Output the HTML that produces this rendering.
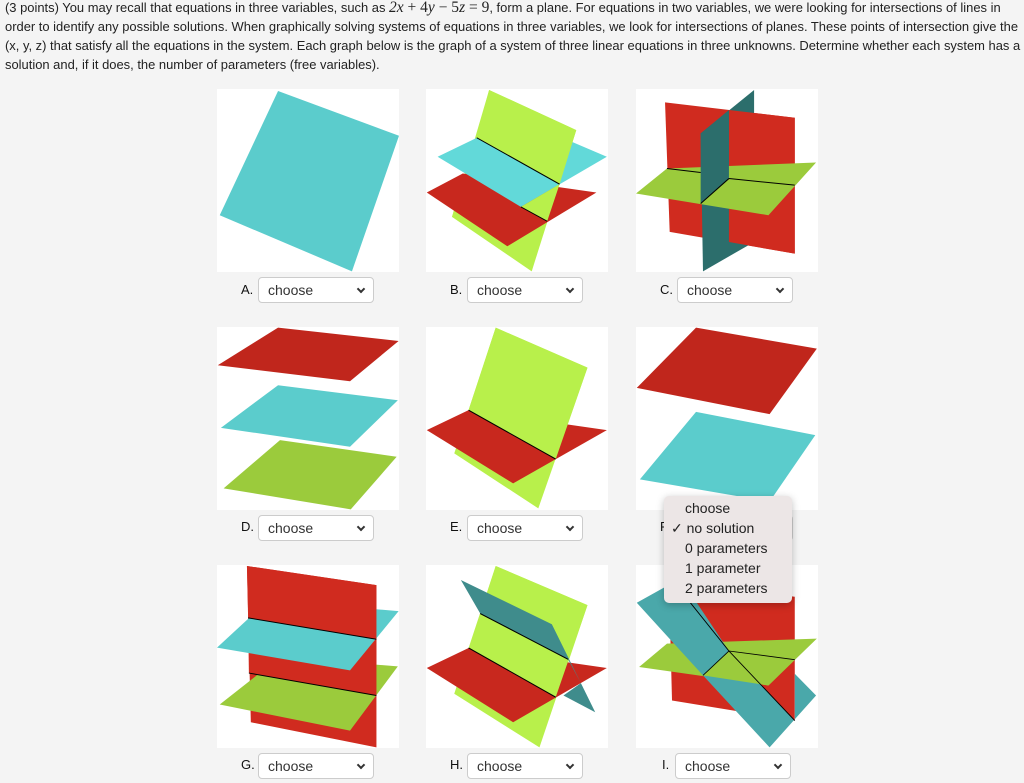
<!DOCTYPE html>
<html><head><meta charset="utf-8"><style>
body{margin:0;width:1024px;height:783px;background:#f4f4f4;position:relative;overflow:hidden;font-family:"Liberation Sans",Arial,sans-serif;}
.t{position:absolute;left:5px;top:-2px;font-size:12.95px;line-height:19px;color:#222;white-space:nowrap;}
.m{font-family:"Liberation Serif",serif;font-size:15.5px;}
svg.b{position:absolute;width:182px;height:183px;background:#fff;}
.sel{position:absolute;width:116px;height:26px;border:1px solid #ccc;border-radius:4px;background:#fff;font-size:14px;color:#333;box-sizing:border-box;padding:4px 0 0 9px;}
.sel:after{content:"";position:absolute;right:9px;top:8px;width:4px;height:4px;border-right:2px solid #333;border-bottom:2px solid #333;transform:rotate(45deg);}
.lb{position:absolute;font-size:13px;color:#111;}
.menu{position:absolute;left:664px;top:496px;width:128px;height:107px;background:#ece6e6;border-radius:5px;box-shadow:0 2px 8px rgba(0,0,0,.25);font-size:14px;color:#222;}
.menu div{position:absolute;left:21px;}
</style></head><body>
<div class="t">(3 points) You may recall that equations in three variables, such as <span class="m"><i>2x</i> + 4<i>y</i> − 5<i>z</i> = 9</span>, form a plane. For equations in two variables, we were looking for intersections of lines in<br>order to identify any possible solutions. When graphically solving systems of equations in three variables, we look for intersections of planes. These points of intersection give the<br>(x, y, z) that satisfy all the equations in the system. Each graph below is the graph of a system of three linear equations in three unknowns. Determine whether each system has a<br>solution and, if it does, the number of parameters (free variables).</div>

<svg class="b" style="left:217px;top:89px" viewBox="18 12 468 548" preserveAspectRatio="none">
<polygon points="175,18 486,152 365,558 25,390" fill="#5bcccc"/></svg>
<svg class="b" style="left:426px;top:89px" viewBox="555 12 470 548" preserveAspectRatio="none">
<polygon points="718,15 943,135 828,558 622,395" fill="#b8f04b"/>
<polygon points="557,322 650,265 995,322 765,483" fill="#c8281e"/>
<polygon points="585,215 790,100 1022,215 800,365" fill="#62d9d9"/>
<polygon points="686,158 718,15 943,135 900,297" fill="#b8f04b"/>
<polygon points="800,365 900,297 868,408" fill="#b8f04b"/>
<polyline points="686,158 900,297" stroke="#000" stroke-width="3" fill="none"/>
<polyline points="800,365 868,408" stroke="#000" stroke-width="3" fill="none"/></svg>
<svg class="b" style="left:636px;top:89px" viewBox="1095 12 470 548" preserveAspectRatio="none">
<polygon points="1170,52 1505,98 1505,505 1182,440" fill="#d02b1f"/>
<polygon points="1262,145 1400,15 1400,470 1268,558" fill="#2c6e6c"/>
<polygon points="1335,75 1505,98 1505,505 1335,470" fill="#d02b1f"/>
<polygon points="1095,325 1175,250 1560,232 1437,390" fill="#9bcb3c"/>
<polygon points="1262,145 1335,75 1335,280 1262,355" fill="#2c6e6c"/>
<polyline points="1175,250 1262,262" stroke="#000" stroke-width="3" fill="none"/>
<polyline points="1335,280 1505,300" stroke="#000" stroke-width="3" fill="none"/>
<polyline points="1335,280 1262,355" stroke="#000" stroke-width="3" fill="none"/></svg>
<svg class="b" style="left:217px;top:327px" viewBox="18 20 468 550" preserveAspectRatio="none">
<polygon points="20,135 175,22 485,62 360,183" fill="#c0261c"/>
<polygon points="28,323 175,195 483,240 360,380" fill="#5bcccc"/>
<polygon points="35,505 180,360 480,410 362,568" fill="#9bcb3c"/></svg>
<svg class="b" style="left:426px;top:327px" viewBox="555 20 470 550" preserveAspectRatio="none">
<polygon points="735,22 972,142 845,565 628,400" fill="#b8f04b"/>
<polygon points="557,330 665,270 1022,330 780,490" fill="#c8281e"/>
<polygon points="665,270 735,22 972,142 890,417" fill="#b8f04b"/>
<polyline points="665,270 890,417" stroke="#000" stroke-width="3" fill="none"/></svg>
<svg class="b" style="left:636px;top:327px" viewBox="1095 20 470 550" preserveAspectRatio="none">
<polygon points="1097,203 1250,22 1562,85 1440,282" fill="#c0261c"/>
<polygon points="1105,478 1250,275 1558,345 1440,545" fill="#5bcccc"/></svg>
<svg class="b" style="left:217px;top:565px" viewBox="18 15 468 547" preserveAspectRatio="none">
<polygon points="95,18 428,75 428,560 105,485" fill="#d02b1f"/>
<polygon points="25,432 180,290 483,318 360,510" fill="#9bcb3c"/>
<polygon points="100,338 428,405 428,237 98,173" fill="#d02b1f"/>
<polygon points="18,262 150,120 485,153 360,330" fill="#5bcccc"/>
<polygon points="95,18 428,75 428,237 98,173" fill="#d02b1f"/>
<polyline points="98,173 428,237" stroke="#000" stroke-width="3" fill="none"/>
<polyline points="100,338 428,405" stroke="#000" stroke-width="3" fill="none"/></svg>
<svg class="b" style="left:426px;top:565px" viewBox="555 15 470 547" preserveAspectRatio="none">
<polygon points="735,18 972,135 848,560 628,400" fill="#b8f04b"/>
<polygon points="557,323 665,263 1022,323 780,485" fill="#c8281e"/>
<polygon points="665,263 735,18 972,135 890,410" fill="#b8f04b"/>
<polygon points="645,60 880,192 955,368 922,297 695,160" fill="#3f8c8c"/>
<polygon points="910,405 955,368 992,455" fill="#3f8c8c"/>
<polyline points="665,263 890,410" stroke="#000" stroke-width="3" fill="none"/>
<polyline points="695,160 922,297" stroke="#000" stroke-width="3" fill="none"/></svg>
<svg class="b" style="left:636px;top:565px" viewBox="1095 15 470 547" preserveAspectRatio="none">
<polygon points="1180,60 1505,110 1505,480 1188,420" fill="#d02b1f"/>
<polygon points="1103,320 1175,250 1562,235 1437,375" fill="#9bcb3c"/>
<polygon points="1097,128 1210,55 1335,272 1505,480 1505,340 1560,405 1440,560 1268,345" fill="#4aa8aa"/>
<polygon points="1268,345 1335,272 1505,298 1437,375" fill="#9bcb3c"/>
<polyline points="1230,120 1335,272 1505,480" stroke="#000" stroke-width="2.5" fill="none"/>
<polyline points="1335,272 1505,298" stroke="#000" stroke-width="2.5" fill="none"/>
<polyline points="1335,272 1268,345" stroke="#000" stroke-width="2.5" fill="none"/></svg>

<div class="lb" style="left:241px;top:282px">A.</div><div class="sel" style="left:258px;top:277px">choose</div>
<div class="lb" style="left:450px;top:282px">B.</div><div class="sel" style="left:467px;top:277px">choose</div>
<div class="lb" style="left:660px;top:282px">C.</div><div class="sel" style="left:677px;top:277px">choose</div>
<div class="lb" style="left:241px;top:519px">D.</div><div class="sel" style="left:258px;top:515px">choose</div>
<div class="lb" style="left:450px;top:519px">E.</div><div class="sel" style="left:467px;top:515px">choose</div>
<div class="lb" style="left:660px;top:519px">F.</div><div class="sel" style="left:677px;top:515px">choose</div>
<div class="lb" style="left:241px;top:757px">G.</div><div class="sel" style="left:258px;top:753px">choose</div>
<div class="lb" style="left:450px;top:757px">H.</div><div class="sel" style="left:467px;top:753px">choose</div>
<div class="lb" style="left:662px;top:757px">I.</div><div class="sel" style="left:675px;top:753px">choose</div>

<div class="menu">
<div style="top:4px">choose</div>
<div style="top:24px;left:7px">✓ no solution</div>
<div style="top:44px">0 parameters</div>
<div style="top:64px">1 parameter</div>
<div style="top:84px">2 parameters</div>
</div>
</body></html>
